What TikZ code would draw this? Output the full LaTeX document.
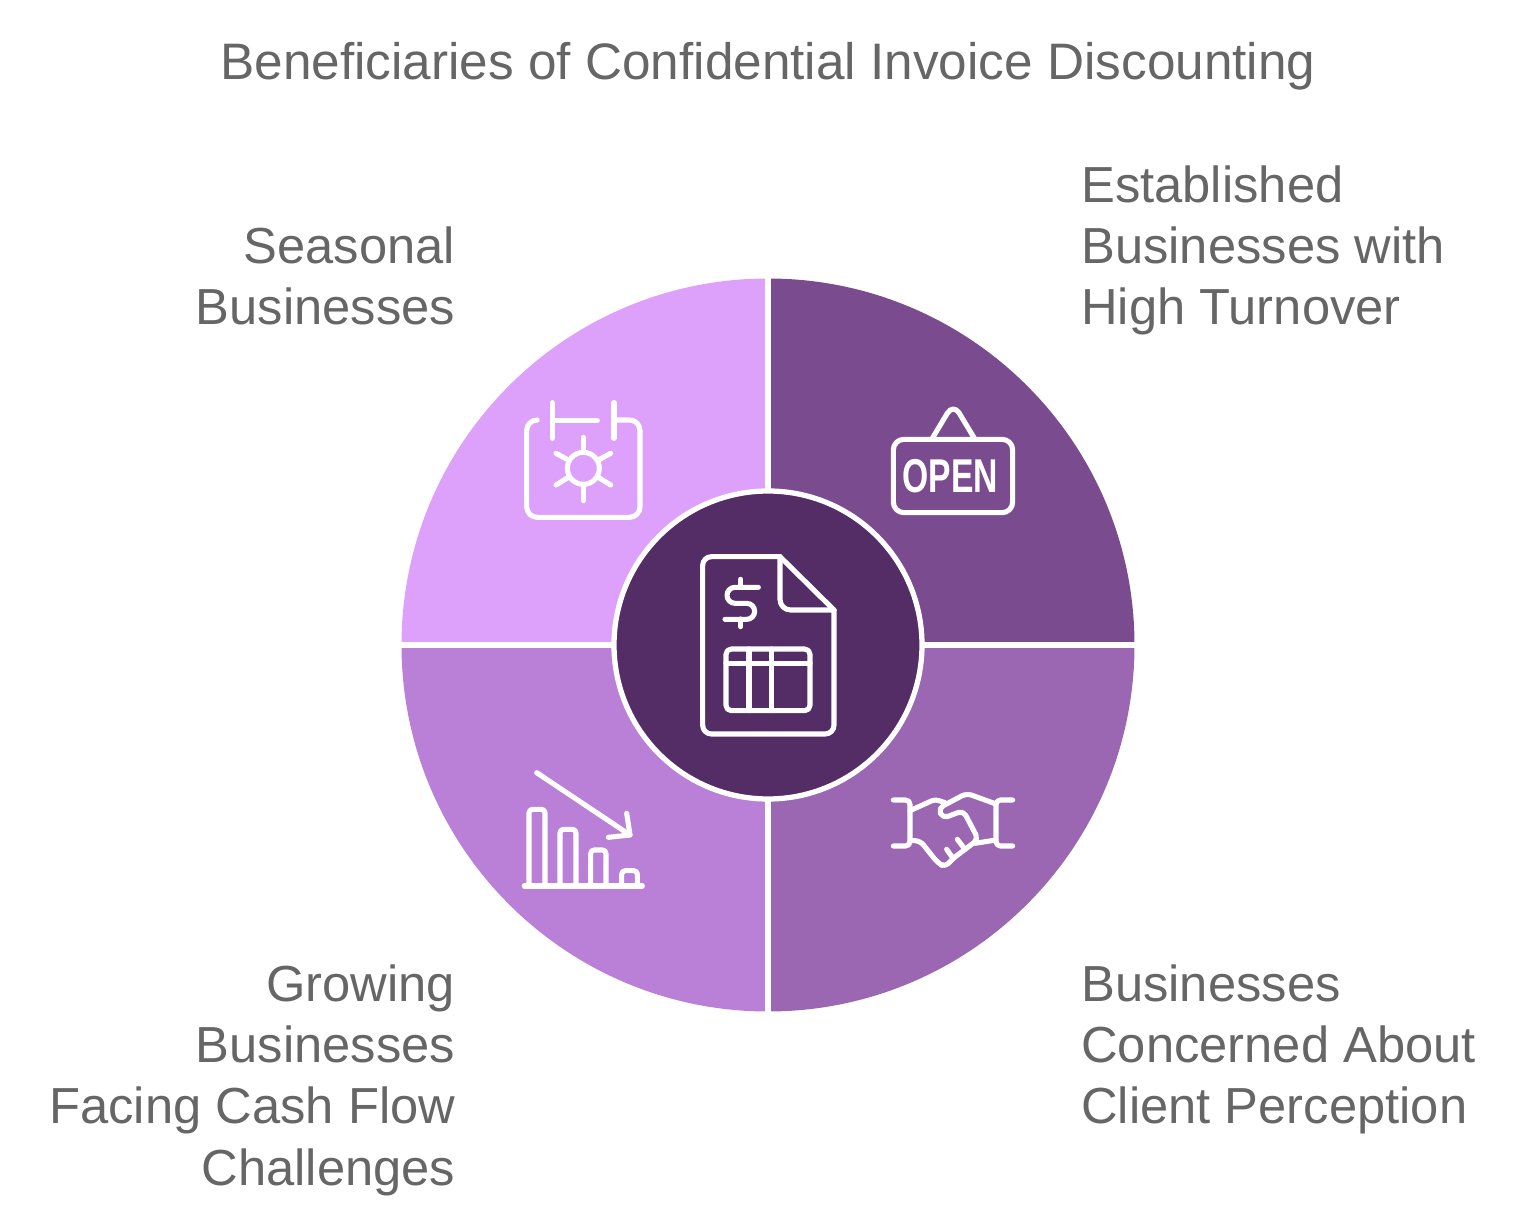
\documentclass[tikz,border=0pt]{standalone}
\usepackage{fontspec}
\setmainfont{Liberation Sans}
\definecolor{lightpurple}{HTML}{DDA0FB}
\definecolor{darkpurple}{HTML}{7A4B8E}
\definecolor{midpurple}{HTML}{9B66B2}
\definecolor{softpurple}{HTML}{BA80D8}
\definecolor{hubpurple}{HTML}{542C66}
\definecolor{labelgray}{HTML}{666666}
\tikzset{
	label text/.style={text=labelgray,inner sep=0pt,font=\fontsize{28.85}{34.9}\selectfont},
	icon line/.style={draw=white,line width=2.9pt,line cap=round,line join=round},
}
\begin{document}
\begin{tikzpicture}[x=0.02cm,y=-0.02cm]
	\useasboundingbox (0,0) rectangle (1536,1229);
	% title
	\node[label text,anchor=base,font=\fontsize{29.2}{34.9}\selectfont] (title) at (768,80) {Beneficiaries of Confidential Invoice Discounting};
	% the four quarters
	\fill[darkpurple] (768,645) -- (768,278.5) arc (-90:0:366.5) -- cycle;
	\fill[midpurple] (768,645) -- (1134.5,645) arc (0:90:366.5) -- cycle;
	\fill[softpurple] (768,645) -- (768,1011.5) arc (90:180:366.5) -- cycle;
	\fill[lightpurple] (768,645) -- (401.5,645) arc (180:270:366.5) -- cycle;
	% white gaps between the quarters
	\draw[white,line width=3pt] (768,270) -- (768,1020);
	\draw[white,line width=3pt] (393,645) -- (1143,645);
	% the hub
	\draw[white,line width=3pt,fill=hubpurple] (768,645) circle (154);
	% labels
	\node[label text,align=left,anchor=north west] (established) at (1081,165) {Established\\Businesses with\\High Turnover};
	\node[label text,align=right,anchor=north east] (seasonal) at (455.5,226) {Seasonal\\Businesses};
	\node[label text,align=left,anchor=north west] (concerned) at (1081,964) {Businesses\\Concerned About\\Client Perception};
	\node[label text,align=right,anchor=north east] (growing) at (455.5,964) {Growing\\Businesses\\Facing Cash Flow\\Challenges};
	% calendar with sun
	\begin{scope}[shift={(500,380)},scale=1/3]
		\draw[icon line,rounded corners=6pt] (110,120) -- (80,120) -- (80,412) -- (420,412) -- (420,120) -- (342,120);
		\draw[icon line] (157,68) -- (157,175);
		\draw[icon line] (342,68) -- (342,175);
		\draw[icon line] (157,122) -- (292,122);
		\draw[icon line] (250,265) circle (48);
		\draw[icon line] (250,172) -- (250,215);
		\draw[icon line] (250,315) -- (250,362);
		\draw[icon line] (168,220) -- (207,241);
		\draw[icon line] (332,220) -- (293,241);
		\draw[icon line] (168,315) -- (207,291);
		\draw[icon line] (332,315) -- (293,291);
	\end{scope}
	% open sign
	\begin{scope}[shift={(870,390)},scale=1/3]
		\draw[icon line,rounded corners=6pt] (70,148) rectangle (428,368);
		\draw[icon line,rounded corners=6.5pt] (185,148) -- (250,40) -- (315,148);
		\node[text=white,inner sep=0pt,xscale=.71,font=\fontsize{27}{27}\selectfont\bfseries] (opentext) at (241,258) {OPEN};
	\end{scope}
	% invoice
	\begin{scope}[shift={(680,540)},scale=1/3]
		\draw[icon line,rounded corners=5pt] (300,50) -- (68,50) -- (68,582) -- (462,582) -- (462,210);
		\draw[icon line] (462,210) -- (300,50);
		\draw[icon line,rounded corners=6pt] (300,50) -- (300,210) -- (462,210);
		\draw[icon line] (182,118) -- (182,142);
		\draw[icon line] (182,237) -- (182,260);
		\draw[icon line] (235,142) -- (165,142) arc (270:90:24) -- (200,190) arc (-90:90:24) -- (135,238);
		\draw[icon line,rounded corners=3pt] (138,327) rectangle (390,512);
		\draw[icon line] (138,370) -- (390,370);
		\draw[icon line] (207,327) -- (207,512);
		\draw[icon line] (275,327) -- (275,512);
	\end{scope}
	% handshake
	\begin{scope}[shift={(870,780)},scale=1/3]
		\draw[icon line,rounded corners=2.5pt] (70,60) -- (120,60) -- (120,198) -- (70,198);
		\draw[icon line,rounded corners=2.5pt] (428,60) -- (378,60) -- (378,198) -- (428,198);
		\draw[icon line,rounded corners=2pt] (120,92) -- (195,58) -- (225,68);
		\draw[icon line,rounded corners=3pt] (378,72) -- (290,40) -- (205,85) -- (218,115) -- (280,92) -- (325,178) -- (248,236) -- (225,262) -- (203,248) -- (150,182) -- (120,182);
		\draw[icon line] (315,190) -- (378,180);
		\draw[icon line] (230,208) -- (250,236);
		\draw[icon line] (262,178) -- (285,208);
	\end{scope}
	% falling bars
	\begin{scope}[shift={(505,760)},scale=1/3]
		\draw[icon line] (58,378) -- (412,378);
		\draw[icon line,rounded corners=2pt] (72,378) -- (72,148) -- (120,148) -- (120,378);
		\draw[icon line,rounded corners=2pt] (165,378) -- (165,208) -- (213,208) -- (213,378);
		\draw[icon line,rounded corners=2pt] (257,378) -- (257,270) -- (303,270) -- (303,378);
		\draw[icon line,rounded corners=2pt] (350,378) -- (350,332) -- (397,332) -- (397,378);
		\draw[icon line] (95,38) -- (375,225);
		\draw[icon line] (365,160) -- (375,225) -- (310,232);
	\end{scope}
\end{tikzpicture}
\end{document}
